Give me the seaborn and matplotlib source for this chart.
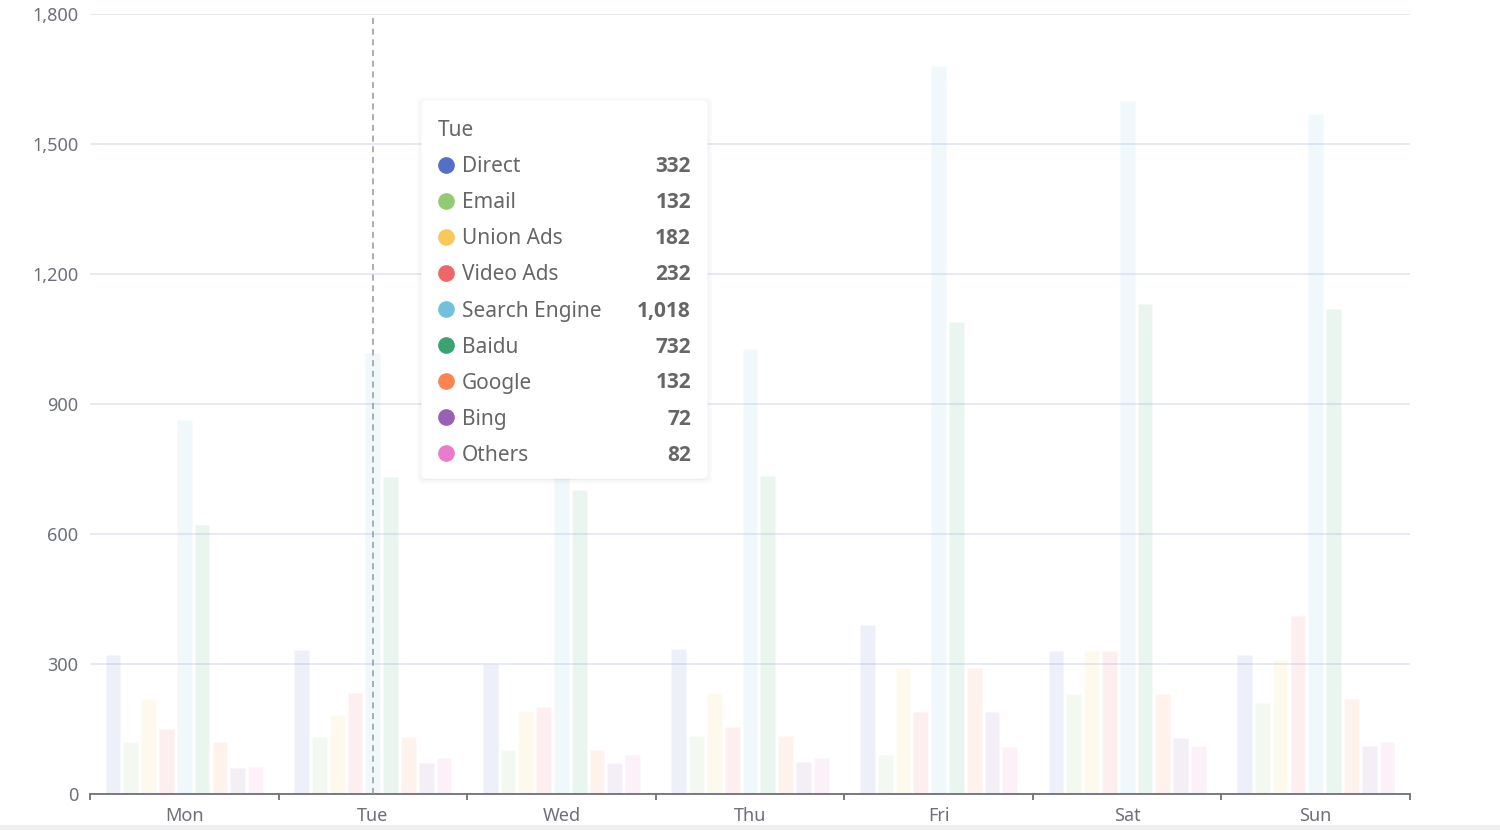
import numpy as np
import pandas as pd
import seaborn as sns
from matplotlib import pyplot as plt
from matplotlib.patches import FancyBboxPatch, Rectangle
from matplotlib.ticker import FuncFormatter, FixedLocator

days = ['Mon', 'Tue', 'Wed', 'Thu', 'Fri', 'Sat', 'Sun']
series_names = ['Direct', 'Email', 'Union Ads', 'Video Ads', 'Search Engine',
                'Baidu', 'Google', 'Bing', 'Others']
direct = [320, 332, 301, 334, 390, 330, 320]
email = [120, 132, 101, 134, 90, 230, 210]
union_ads = [220, 182, 191, 234, 290, 330, 310]
video_ads = [150, 232, 201, 154, 190, 330, 410]
search_engine = [862, 1018, 964, 1026, 1679, 1600, 1570]
baidu = [620, 732, 701, 734, 1090, 1130, 1120]
google = [120, 132, 101, 134, 290, 230, 220]
bing = [60, 72, 71, 74, 190, 130, 110]
others = [62, 82, 91, 84, 109, 110, 120]
colors = ['#5470c6', '#91cc75', '#fac858', '#ee6666', '#73c0de',
          '#3ba272', '#fc8452', '#9a60b4', '#ea7ccc']
y_ticks = [0, 300, 600, 900, 1200, 1500, 1800]
tooltip_day = 'Tue'

all_values = [direct, email, union_ads, video_ads, search_engine,
              baidu, google, bing, others]

# long-form table for seaborn
rows = []
for name, vals in zip(series_names, all_values):
    for d, v in zip(days, vals):
        rows.append({'day': d, 'series': name, 'value': v})
df = pd.DataFrame(rows)

sns.set_theme(style='white')
plt.rcParams['font.family'] = ['Noto Sans', 'DejaVu Sans']

W, H = 1500, 830
fig = plt.figure(figsize=(15, 8.3), dpi=100)
ax = fig.add_axes([90 / W, 1 - 794 / H, 1320 / W, 780 / H])

sns.barplot(data=df, x='day', y='value', hue='series', order=days,
            hue_order=series_names, palette=colors, width=0.85, gap=0.17,
            alpha=0.1, saturation=1, legend=False, errorbar=None, ax=ax)

axis_col = '#6e7079'
ax.set_xlim(-0.5, len(days) - 0.5)
ax.set_ylim(0, 1800)
ax.set_yticks(y_ticks)
ax.yaxis.set_major_formatter(FuncFormatter(lambda v, p: f'{int(v):,}'))
ax.grid(axis='y', color='#e0e6f1', linewidth=1.2)
ax.set_axisbelow(True)
for s in ['top', 'right', 'left']:
    ax.spines[s].set_visible(False)
ax.spines['bottom'].set_color(axis_col)
ax.spines['bottom'].set_linewidth(1.3)
ax.set_xlabel('')
ax.set_ylabel('')
ax.tick_params(axis='y', length=0, pad=8.5, labelsize=13, labelcolor=axis_col)
ax.xaxis.set_minor_locator(FixedLocator(np.arange(-0.5, len(days), 1.0)))
ax.tick_params(axis='x', which='major', bottom=True, length=0, pad=9,
               labelsize=13, labelcolor=axis_col)
ax.tick_params(axis='x', which='minor', bottom=True, length=4.5, width=1.3,
               color=axis_col, direction='out')

# axis pointer on the hovered category
ti = days.index(tooltip_day)
ax.axvline(ti, color='#999999', linestyle=(0, (4, 3)), linewidth=1.1, zorder=5)

# tooltip box
def fx(px):
    return px / W


def fy(py):
    return 1 - py / H


bw, bh = 707 - 422, 377
for k, a in [(6, 0.015), (4, 0.02), (2, 0.03)]:
    sh = FancyBboxPatch((fx(422 - k + 1), fy(478 + k)), (bw + 2 * k - 2) / W,
                        (bh + 2 * k - 2) / H,
                        boxstyle='round,pad=0,rounding_size=0.006',
                        transform=fig.transFigure, facecolor='#000000',
                        alpha=a, edgecolor='none', zorder=9)
    fig.patches.append(sh)
box = FancyBboxPatch((fx(422), fy(478)), bw / W, bh / H,
                     boxstyle='round,pad=0,rounding_size=0.004',
                     transform=fig.transFigure, facecolor='white',
                     edgecolor='white', linewidth=1, zorder=10)
fig.patches.append(box)

txt_col = '#666666'
fig.text(fx(438), fy(131), tooltip_day, fontsize=15, color=txt_col,
         va='center', ha='left', zorder=11)
for i, (name, vals, c) in enumerate(zip(series_names, all_values, colors)):
    yy = fy(167 + 36 * i)
    fig.lines.append(plt.Line2D([fx(446)], [fy(165 + 36 * i)], marker='o',
                                markersize=11, color=c,
                                transform=fig.transFigure, zorder=11))
    fig.text(fx(462), yy, name, fontsize=15, color=txt_col, va='center',
             ha='left', zorder=11)
    fig.text(fx(691), yy, f'{vals[ti]:,}', fontsize=15, color=txt_col,
             family=['Open Sans', 'Lato', 'DejaVu Sans'], fontweight='bold',
             va='center', ha='right', zorder=11)

# scrollbar strip at the bottom edge
fig.patches.append(Rectangle((0, 0), 1, 5 / H, transform=fig.transFigure,
                             facecolor='#efefef', edgecolor='none'))

fig.savefig('out.png', dpi=100)
